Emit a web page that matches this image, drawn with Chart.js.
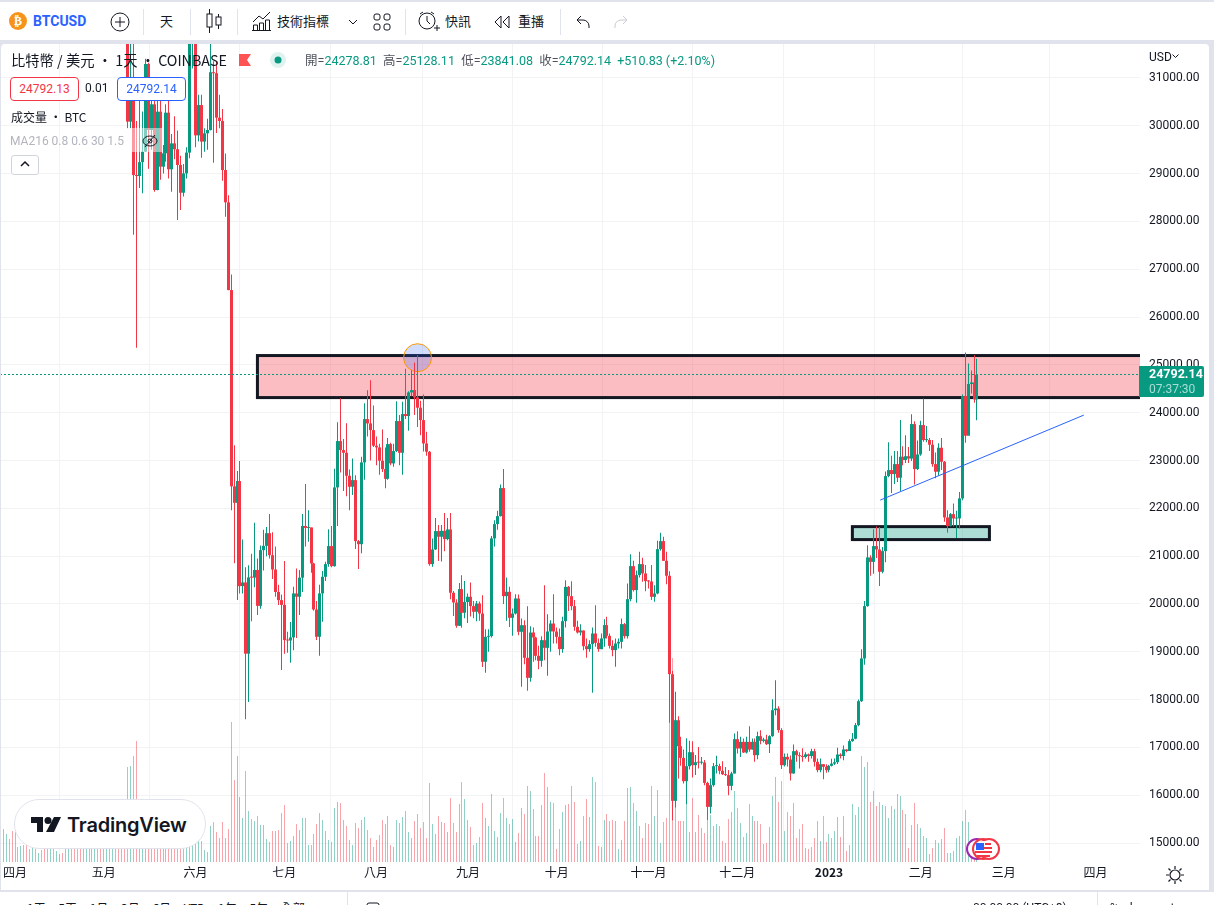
<!DOCTYPE html>
<html lang="zh-Hant">
<head>
<meta charset="utf-8">
<title>BTCUSD</title>
<script src="https://cdn.jsdelivr.net/npm/chart.js@4/dist/chart.umd.min.js"></script>
<style>
html,body{margin:0;padding:0;width:1214px;height:905px;overflow:hidden;background:#e0e3eb;font-family:"Noto Sans CJK TC","Roboto",sans-serif;color:#131722}
.abs{position:absolute;white-space:nowrap}
#top{position:absolute;left:0;top:2px;width:1214px;height:38px;background:#fff}
#panel{position:absolute;left:1px;top:44px;width:1208px;height:846px;background:#fff;border-radius:4px 4px 0 0;overflow:hidden}
#bottom{position:absolute;left:0;top:892px;width:1214px;height:13px;background:#fff;overflow:hidden}
#c{position:absolute;left:-1px;top:0}
.div{position:absolute;top:9px;width:1px;height:26px;background:#e0e3eb}
.tb{position:absolute;font-size:13px;line-height:20px;color:#131722}
svg{position:absolute;overflow:visible}
.val{color:#089981}.lab{color:#50535e}
</style>
</head>
<body>
<div id="top">
  <svg style="left:9px;top:10px" width="18" height="18" viewBox="0 0 18 18"><circle cx="9" cy="9" r="9" fill="#f7931a"/><text x="9" y="13" font-size="12" font-weight="700" text-anchor="middle" fill="#fff" font-family="Roboto">₿</text></svg>
  <div class="tb" style="left:33px;top:9px;color:#2962ff;font-weight:700;font-family:Roboto;font-size:14px">BTCUSD</div>
  <svg style="left:110px;top:10px" width="20" height="20" fill="none" stroke="#131722"><circle cx="10" cy="10" r="9"/><path d="M10 5v10M5 10h10"/></svg>
  <div class="div" style="left:143px;top:7px"></div>
  <div class="tb" style="left:160px;top:9px">天</div>
  <div class="div" style="left:190px;top:7px"></div>
  <svg style="left:206px;top:7px" width="16" height="24" fill="none" stroke="#131722"><path d="M3.5 0v24M12.5 5v15"/><rect x="1" y="5" width="5" height="13" fill="#fff"/><rect x="10" y="8" width="5" height="8" fill="#fff"/></svg>
  <div class="div" style="left:237px;top:7px"></div>
  <svg style="left:252px;top:9px" width="20" height="20" fill="none" stroke="#131722"><path d="M1 11l6-6 4 3 7-7"/><path d="M1.500 19v-5h4v5M7.500 19v-7h4v7M13.500 19v-10h4v10M0 19.500h19"/></svg>
  <div class="tb" style="left:277px;top:9px">技術指標</div>
  <svg style="left:348px;top:17px" width="10" height="6" fill="none" stroke="#131722"><path d="M1 1l4 4 4-4"/></svg>
  <svg style="left:373px;top:11px" width="18" height="18" fill="none" stroke="#131722"><rect x="1" y="1" width="6" height="6" rx="2"/><rect x="11" y="1" width="6" height="6" rx="2"/><rect x="1" y="11" width="6" height="6" rx="2"/><rect x="11" y="11" width="6" height="6" rx="2"/></svg>
  <div class="div" style="left:405px;top:7px"></div>
  <svg style="left:418px;top:9px" width="22" height="22" fill="none" stroke="#131722"><circle cx="9" cy="10" r="8"/><path d="M9 5v5l3 3M2 3l3-2M16 3l-3-2M16 17h6M19 14v6"/></svg>
  <div class="tb" style="left:445px;top:9px">快訊</div>
  <svg style="left:494px;top:13px" width="16" height="14" fill="none" stroke="#131722"><path d="M7 1L1 7l6 6zM15 1l-6 6 6 6z"/></svg>
  <div class="tb" style="left:518px;top:9px">重播</div>
  <div class="div" style="left:560px;top:7px"></div>
  <svg style="left:576px;top:13px" width="14" height="14" fill="none" stroke="#131722"><path d="M5 1L1 5l4 4M1 5h6a6 6 0 0 1 6 6v2"/></svg>
  <svg style="left:614px;top:13px" width="14" height="14" fill="none" stroke="#c9cbd2"><path d="M9 1l4 4-4 4M13 5H7a6 6 0 0 0-6 6v2"/></svg>
</div>

<div id="panel"><canvas id="c" width="1209" height="846"></canvas></div>

<div class="abs" style="left:132px;top:128px;width:30px;height:24px;background:rgba(255,255,255,.5)"></div>
<div class="abs" style="left:89px;top:128px;width:43px;height:24px;background:rgba(255,255,255,.5)"></div>
<div class="abs" style="left:11px;top:50px;font-size:14.3px;line-height:20px">比特幣 / 美元 · 1天 · COINBASE</div>
<svg style="left:239px;top:54px" width="12" height="12"><path d="M0 0h12l-4 6 4 6H0z" fill="#ff5252"/></svg>
<svg style="left:270px;top:52px" width="16" height="16"><circle cx="8" cy="8" r="8" fill="#e0f2ef"/><circle cx="8" cy="8" r="3.500" fill="#089981"/></svg>
<div class="abs" style="left:305px;top:52px;font-size:12.5px;line-height:18px;font-family:Roboto,'Noto Sans CJK TC'">
<span class="lab">開=</span><span class="val">24278.81</span>&nbsp; <span class="lab">高=</span><span class="val">25128.11</span>&nbsp; <span class="lab">低=</span><span class="val">23841.08</span>&nbsp; <span class="lab">收=</span><span class="val">24792.14</span>&nbsp; <span class="val">+510.83 (+2.10%)</span></div>
<div class="abs" style="left:10px;top:77px;width:67px;height:22px;border:1px solid #f23645;border-radius:4px;background:#fff;color:#f23645;font:12px/22px Roboto;text-align:center">24792.13</div>
<div class="abs" style="left:85px;top:80px;font:12px/16px Roboto;color:#131722">0.01</div>
<div class="abs" style="left:117px;top:77px;width:67px;height:22px;border:1px solid #2962ff;border-radius:4px;background:#fff;color:#2962ff;font:12px/22px Roboto;text-align:center">24792.14</div>
<div class="abs" style="left:11px;top:108px;font-size:12px;line-height:18px">成交量 · BTC</div>
<div class="abs" style="left:10px;top:132px;font:12px/18px Roboto;color:#b2b5be">MA216 0.8 0.6 30 1.5</div>
<svg style="left:142px;top:133px" width="16" height="16" fill="none" stroke="#131722"><ellipse cx="8" cy="8" rx="7" ry="5"/><circle cx="8" cy="8" r="2"/><path d="M13 2L3 14"/></svg>
<div class="abs" style="left:11px;top:155px;width:26px;height:18px;border:1px solid #d1d4dc;border-radius:3px;background:#fff"></div>
<svg style="left:20px;top:161px" width="10" height="6" fill="none" stroke="#131722" stroke-width="1.500"><path d="M1 5l4-4 4 4"/></svg>

<div class="abs" style="left:14px;top:799px;width:190px;height:48px;border:1px solid #e0e3eb;border-radius:25px;background:#fff"></div>
<svg style="left:31px;top:817px" width="30" height="16"><path d="M0 0h12v15H6V6H0z" fill="#131722"/><circle cx="17" cy="3.500" r="3.500" fill="#131722"/><path d="M23 0h7l-7 15h-8z" fill="#131722"/></svg>
<div class="abs" style="left:67px;top:812px;font:600 20px/26px Inter;color:#131722;letter-spacing:-.2px">TradingView</div>

<svg style="left:968px;top:838px" width="32" height="22">
  <circle cx="9" cy="11" r="10" fill="#fff" stroke="#9c27b0" stroke-width="2"/>
  <circle cx="15" cy="11" r="10" fill="#fff" stroke="#f23645" stroke-width="2"/>
  <circle cx="21" cy="11" r="10" fill="#fff" stroke="#f23645" stroke-width="2"/>
  <circle cx="15" cy="11" r="8" fill="#fff"/>
  <path d="M8 9h16v2H8zM7 13h17v2H7zM9 17h13v2H9zM17 5h6v2h-6z" fill="#f23645"/>
  <rect x="8" y="5" width="8" height="7" fill="#2962ff"/>
</svg>

<div class="abs" style="left:1149px;top:48px;font:12px/18px Roboto;color:#131722">USD</div>
<svg style="left:1172px;top:54px" width="7" height="5" fill="none" stroke="#131722"><path d="M.5 .5l3 3 3-3"/></svg>
<div class="abs" style="left:1139px;top:366px;width:65px;height:31px;background:#089981;border-radius:0 2px 2px 0"></div>
<div class="abs" style="left:1149px;top:366px;font:700 12.500px/16px Roboto;color:#fff">24792.14</div>
<div class="abs" style="left:1149px;top:381px;font:12px/16px Roboto;color:#a9ded4">07:37:30</div>
<svg style="left:1166px;top:866px" width="18" height="18" fill="none" stroke="#131722" stroke-width="1.200"><circle cx="9" cy="9" r="5"/><path d="M9 0v3M9 15v3M0 9h3M15 9h3M2.500 2.500l2 2M13.500 13.500l2 2M2.500 15.500l2-2M13.500 4.500l2-2"/></svg>

<div id="bottom">
  <div class="abs" style="left:27px;top:9px;font-size:12px;line-height:14px;word-spacing:10px">1天 5天 1月 3月 6月 YTD 1年 5年 全部</div>
  <div class="div" style="left:347px;top:0"></div>
  <svg style="left:366px;top:8px" width="14" height="14" fill="none" stroke="#131722"><rect x="1" y="3" width="12" height="10" rx="2"/></svg>
  <div class="abs" style="left:973px;top:9px;font:12px/14px Roboto">00:00:00 (UTC+8)</div>
  <div class="div" style="left:1097px;top:0"></div>
  <div class="abs" style="left:1110px;top:9px;font:12px/14px Roboto;word-spacing:8px">% log auto</div>
</div>

<script>
// Daily candles, 28 Mar 2022 – 20 Feb 2023; dayNumbers count from 1 Apr 2022 = 0
const firstDay = -4;
const opens = [
46850,47100,47450,47070,
45520,46280,45820,46410,46590,45500,43190,43450,42290,42780,42150,39530,40080,41150,39940,40550,40400,39720,40830,41500,41370,40480,39710,39450,39450,40430,38120,39240,39740,38600,
37640,38470,38530,37750,39690,36550,36010,35470,34060,30087,31000,28970,28950,29240,29460,31293,29913,30450,28657,30296,29145,29425,30275,29090,29633,29510,29180,28600,29005,29440,31720,
31790,29800,30434,29670,29843,29913,31120,31100,30170,30100,29075,28400,26565,22460,22115,22570,20373,20450,18960,20555,20550,20710,19960,21125,21215,21480,21020,20720,20250,20080,
19980,19245,19235,19300,20220,20150,20550,21630,21590,21600,20847,19885,19313,20220,20568,20833,21210,20791,22437,23406,23218,23162,22681,22451,22590,21314,21250,22960,23866,23776,23636,
23309,23274,22995,22820,22618,23343,22939,23197,23825,23162,23971,23930,24424,24473,24320,24104,23845,23357,23183,20833,21140,21524,21405,21530,21356,21558,20234,20031,19543,20310,19815,
20040,20150,19955,19836,20010,19800,18790,19313,19327,21370,21670,21837,22423,20163,20254,19710,19800,20114,19417,19556,18873,18455,19403,19299,18915,18810,19243,19082,19424,19591,
19424,19312,19055,19640,20358,20163,19954,19522,19403,19445,19117,19055,19159,19382,19187,19055,19278,19557,19333,19124,19034,19173,19208,19578,19326,20100,20791,20289,20603,20833,20638,
20477,20470,20149,20219,21146,21314,20902,20589,18531,15882,17569,17025,16781,16293,16607,16899,16628,16690,16680,16685,16258,15756,16210,16607,16610,16510,16440,16420,16195,16454,
17172,16977,17116,16893,17116,16955,17116,16837,17235,17137,17165,17067,17235,17778,17813,17361,16628,16802,16747,16454,16921,16837,16817,16800,16855,16820,16921,16698,16524,16649,16594,
16524,16614,16660,16690,16851,16820,16957,16925,17131,17180,17465,17967,18860,19955,20973,20880,21210,21140,20673,21105,22674,22800,22716,22925,22640,23078,23010,23090,23040,23762,22820,
23127,23741,23427,23430,23330,22925,22765,23267,22974,21809,21628,21879,21788,21790,22207,24348,23518,24599,24633,24278];
const closes = [
47100,47450,47070,45520,
46280,45820,46410,46590,45500,43190,43450,42290,42780,42150,39530,40080,41150,39940,40550,40400,39720,40830,41500,41370,40480,39710,39450,39450,40430,38120,39240,39740,38600,37640,
38470,38530,37750,39690,36550,36010,35470,34060,30087,31000,28970,28950,29240,29460,31293,29913,30450,28657,30296,29145,29425,30275,29090,29633,29510,29180,28600,29005,29440,31720,31790,
29800,30434,29670,29843,29913,31120,31100,30170,30100,29075,28400,26565,22460,22115,22570,20373,20450,18960,20555,20550,20710,19960,21125,21215,21480,21020,20720,20250,20080,19980,
19245,19235,19300,20220,20150,20550,21630,21590,21600,20847,19885,19313,20220,20568,20833,21210,20791,22437,23406,23218,23162,22681,22451,22590,21314,21250,22960,23866,23776,23636,23309,
23274,22995,22820,22618,23343,22939,23197,23825,23162,23971,23930,24424,24473,24320,24104,23845,23357,23183,20833,21140,21524,21405,21530,21356,21558,20234,20031,19543,20310,19815,20040,
20150,19955,19836,20010,19800,18790,19313,19327,21370,21670,21837,22423,20163,20254,19710,19800,20114,19417,19556,18873,18455,19403,19299,18915,18810,19243,19082,19424,19591,19424,
19312,19055,19640,20358,20163,19954,19522,19403,19445,19117,19055,19159,19382,19187,19055,19278,19557,19333,19124,19034,19173,19208,19578,19326,20100,20791,20289,20603,20833,20638,20477,
20470,20149,20219,21146,21314,20902,20589,18531,15882,17569,17025,16781,16293,16607,16899,16628,16690,16680,16685,16258,15756,16210,16607,16610,16510,16440,16420,16195,16454,17172,
16977,17116,16893,17116,16955,17116,16837,17235,17137,17165,17067,17235,17778,17813,17361,16628,16802,16747,16454,16921,16837,16817,16800,16855,16820,16921,16698,16524,16649,16594,16524,
16614,16660,16690,16851,16820,16957,16925,17131,17180,17465,17967,18860,19955,20973,20880,21210,21140,20673,21105,22674,22800,22716,22925,22640,23078,23010,23090,23040,23762,22820,23127,
23741,23427,23430,23330,22925,22765,23267,22974,21809,21628,21879,21788,21790,22207,24348,23518,24599,24633,24278,24792];
const highs = [
48200,48100,47700,47600,
46700,46900,47400,47000,47100,45500,43900,43950,43000,43000,42400,40700,41500,41500,40700,40700,40600,41100,41750,42900,42900,40800,39950,39900,40600,40800,39430,40350,39900,38800,
38700,38640,38650,40020,39800,36650,36130,35500,34250,32650,32150,30100,30900,30300,31400,31320,30700,30650,30540,30770,29600,30450,30650,29830,30200,29900,29375,29200,29550,32200,32350,
31950,30650,30650,29950,30150,31750,31350,31350,30650,30350,29420,28550,26890,23320,22780,22990,21350,20770,20810,21050,21700,20950,21220,21550,21610,21880,21500,21200,20400,20200,
20900,19420,19620,20360,20740,20710,21880,22510,21960,21600,20860,20060,20400,20690,20880,21560,21630,22830,23800,24300,23450,23780,22810,23040,22690,21340,23080,24200,24470,24680,24150,
23500,23350,23650,23270,23470,23370,23350,24240,23950,24230,24920,24450,24890,25050,25200,24250,24380,23600,23200,21370,21800,21650,21650,21900,21800,21900,20270,20100,20440,20600,20480,
20220,20450,20060,20060,20050,20180,19470,19470,21420,21750,21950,22500,22820,20553,20358,19905,20205,20200,19696,19660,19954,19535,19508,19312,19124,19327,20393,19786,19661,20205,
19508,19487,19731,20498,20373,20477,20080,19647,19578,19445,19277,19243,19508,19975,19277,19382,19682,19731,19382,19243,19277,19277,19696,19602,20428,21042,20902,20700,21090,20965,20812,
20498,20812,20393,21321,21488,21404,21090,20686,18600,18162,17653,17221,16955,17193,17137,17130,16840,17010,16800,16735,16280,16350,16675,16823,16660,16710,16590,16525,16490,17290,
17339,17220,17186,17220,17444,17186,17186,17325,17360,17200,17262,17255,18009,18405,17862,17400,16870,16870,16830,17060,16950,16900,16980,16900,16870,16970,16970,16770,16770,16649,16650,
16630,16760,16770,16990,16880,17040,16960,17170,17300,17510,18000,19050,20060,21230,21020,21560,21620,21610,21190,22770,23380,23100,23200,23200,23845,23300,23530,23280,23970,23820,23420,
23830,24299,23720,23470,23430,23170,23360,23470,22990,21960,21900,22100,21950,22340,24380,25260,25030,24880,25200,25128];
const lows = [
46650,46550,46550,45200,
44200,45150,45600,45100,45400,43100,42750,42150,42250,41900,39200,39250,39600,39550,39650,40000,39600,38550,40550,41100,39800,39200,39300,38950,38200,37750,37900,38880,38200,37600,
37390,37600,37500,37590,35600,35250,34800,33700,29950,29950,27720,25360,28700,28590,29450,29100,29500,28620,28650,28870,29000,29250,28900,28620,29300,28030,28240,28520,28900,29320,31200,
29550,29670,29330,29460,29500,29900,29230,29850,29950,28850,28100,26560,21960,20850,20080,20220,20220,17590,17950,19640,20350,19770,19900,20700,21000,20950,20520,20150,19980,18620,
18960,18980,18770,19030,19290,19770,20250,21200,21300,20652,19860,19244,18915,19627,20480,20780,20770,20780,21630,22750,22360,22250,21960,22280,21150,20730,21060,22600,23500,23000,23280,
22900,22700,22760,22420,22600,22900,22870,23180,22900,22700,23870,23620,24350,23950,23700,23530,23190,23100,20800,20780,21130,20900,20890,21100,21330,20100,19750,19500,19540,19500,19700,
19600,19740,19700,19640,19650,18680,18560,19000,19300,21200,21550,21830,20000,19647,19520,19333,19780,19347,18266,18740,18183,18371,18790,18824,18636,18685,18824,18497,19000,19173,
19173,18929,18978,19508,19850,19870,19438,19382,19340,19034,18873,19000,18141,19103,19000,19055,19103,19277,19068,18908,18685,19068,19068,19277,19277,20059,20260,20024,20554,20463,20268,
20324,20080,20045,20205,21111,20902,20414,17513,15477,15742,16350,16614,16245,15812,16540,16370,16420,16560,16640,16210,15480,15617,16175,16453,16440,16420,16400,16000,16105,16454,
16870,16800,16885,16870,16907,16955,16698,16753,17067,17100,17050,16885,17221,17674,17305,16550,16600,16600,16307,16450,16700,16560,16700,16770,16700,16770,16600,16480,16480,16333,16470,
16480,16600,16630,16650,16770,16730,16900,16930,17120,17170,17440,17950,18730,19940,20590,20630,20960,20373,20640,20870,22650,22320,22510,22550,22360,22900,22950,22950,22990,22500,22800,
23100,23390,23380,23200,22870,22630,22680,22800,21719,21489,21620,21620,21380,21580,22170,23370,23850,24400,24210,23841];
// Volume, thousands of BTC
const volumes = [
33,28,23,31,
30,15,16,17,17,13,25,13,9,12,13,15,15,14,11,8,9,14,16,20,22,15,18,24,20,18,16,14,20,18,25,16,18,22,28,30,38,42,
95,96,106,121,
58,45,30,50,35,48,38,32,28,20,30,34,28,24,30,20,30,28,40,38,24,
21,12,10,36,40,30,24,40,24,33,
140,82,106,65,44,91,51,43,41,46,37,37,23,20,31,31,32,49,57,19,21,26,38,32,44,44,17,17,28,38,49,42,31,22,20,54,60,59,42,36,22,17,39,34,42,45,32,24,15,22,27,42,38,46,17,15,42,39,45,51,30,24,41,48,34,40,24,79,38,28,46,40,39,30,64,39,30,58,80,63,42,35,17,19,25,59,44,36,68,31,25,
49,64,44,38,43,20,29,54,48,76,71,53,26,26,57,89,75,60,59,13,33,50,57,58,76,60,18,21,46,63,45,85,80,
16,15,42,48,41,42,41,13,22,41,74,75,59,51,36,24,39,38,76,46,72,19,40,44,144,204,156,
41,41,41,64,30,64,30,47,34,29,59,47,36,38,36,21,19,43,50,71,54,39,25,29,58,46,41,41,38,18,19,35,66,85,60,81,31,50,46,59,24,33,38,14,13,15,24,41,21,46,20,28,24,31,45,25,46,11,17,58,47,55,
106,95,100,60,71,
56,60,57,56,44,56,53,68,66,52,48,14,37,59,38,34,26,24,8,14,22,19,23,34,9,9,11,24,26,41,52,40,16,14,12];

const monthDays = [0,30,61,91,122,153,183,214,244,275,306,334,365];
const monthLabels = ["四月","五月","六月","七月","八月","九月","十月","十一月","十二月","2023","二月","三月","四月"];
const priceTicks = [15000,16000,17000,18000,19000,20000,21000,22000,23000,24000,25000,26000,27000,28000,29000,30000,31000];

const lastPrice = 24792.14;
const trendLine = [{x:292.3,y:22172},{x:361.1,y:23950}];
const zoneRed = {from:81.9,to:383,top:25195,bottom:24316};
const zoneGreen = {from:282.9,to:329.2,top:21617,bottom:21346};
const marker = {x:136,y:25150};

const UP="#089981", DOWN="#f23645", UPV="rgba(8,153,129,.45)", DOWNV="rgba(242,54,69,.45)";
const dayOf = i => firstDay + i;
const isUp = i => closes[i] >= opens[i];

// Snap the 1px wicks, volume bars and the dotted price line to whole device pixels
const crispPlugin = {
  id:"crisp",
  afterDatasetsUpdate(chart){
    chart.data.datasets.forEach((ds,n)=>{
      const meta = chart.getDatasetMeta(n);
      if (ds.type === "line") {
        if (ds.snap) meta.data.forEach(p=>{ p.y = Math.floor(p.y)+0.5; p.x = Math.round(p.x); });
        return;
      }
      meta.data.forEach(el=>{ el.x = Math.floor(el.x)+0.5; });
    });
  }
};

const zonesPlugin = {
  id:"zones",
  beforeDatasetsDraw(chart){
    const {ctx,chartArea:a,scales:{x,y}} = chart;
    ctx.save();
    ctx.beginPath(); ctx.rect(a.left,a.top,a.right-a.left,a.bottom-a.top); ctx.clip();
    const box=(z,fill)=>{
      const l=x.getPixelForValue(z.from), r=x.getPixelForValue(z.to);
      const t=y.getPixelForValue(z.top), b=y.getPixelForValue(z.bottom);
      ctx.fillStyle=fill; ctx.fillRect(l,t,r-l,b-t);
      ctx.strokeStyle="#131722"; ctx.lineWidth=3; ctx.strokeRect(l,t,r-l,b-t);
    };
    box(zoneRed,"rgba(242,54,69,.33)");
    box(zoneGreen,"rgba(8,153,129,.33)");
    ctx.beginPath();
    ctx.arc(x.getPixelForValue(marker.x),y.getPixelForValue(marker.y),14,0,Math.PI*2);
    ctx.fillStyle="rgba(41,98,255,.22)"; ctx.fill();
    ctx.strokeStyle="#ff9800"; ctx.lineWidth=1; ctx.stroke();
    ctx.restore();
  }
};

new Chart(document.getElementById("c"),{
  type:"bar",
  plugins:[crispPlugin,zonesPlugin],
  data:{datasets:[
    {label:"成交量",yAxisID:"vol",order:6,grouped:false,barThickness:1,inflateAmount:0,
     data:volumes.map((v,i)=>({x:dayOf(i),y:v})),
     backgroundColor:volumes.map((v,i)=>isUp(i)?UPV:DOWNV)},
    {label:"影線",yAxisID:"y",order:5,grouped:false,barThickness:1,inflateAmount:0,
     data:highs.map((h,i)=>({x:dayOf(i),y:[lows[i],h]})),
     backgroundColor:highs.map((h,i)=>isUp(i)?UP:DOWN)},
    {label:"K線",yAxisID:"y",order:4,grouped:false,barThickness:3,inflateAmount:0,minBarLength:1,
     data:opens.map((o,i)=>({x:dayOf(i),y:[Math.min(o,closes[i]),Math.max(o,closes[i])]})),
     backgroundColor:opens.map((o,i)=>isUp(i)?UP:DOWN)},
    {type:"line",label:"現價",yAxisID:"y",order:3,snap:true,
     data:[{x:-5,y:lastPrice},{x:381,y:lastPrice}],
     borderColor:UP,borderWidth:1,borderDash:[2,2],pointRadius:0},
    {type:"line",label:"趨勢線",yAxisID:"y",order:2,
     data:trendLine,borderColor:"#2962ff",borderWidth:1,pointRadius:0}
  ]},
  options:{
    responsive:false,animation:false,devicePixelRatio:1,
    layout:{padding:0},
    plugins:{legend:{display:false},tooltip:{enabled:false}},
    scales:{
      x:{type:"linear",min:-5.07,max:380.07,offset:false,
        afterBuildTicks:s=>{s.ticks=monthDays.map(v=>({value:v}))},
        afterFit:s=>{s.height=28;s.paddingLeft=0;s.paddingRight=0},
        border:{display:false},
        grid:{color:"#f2f3f5",drawTicks:false},
        ticks:{autoSkip:false,maxRotation:0,padding:3,color:"#131722",
          font:c=>({family:"'Noto Sans CJK TC',Roboto",size:12,weight:monthLabels[c.index]==="2023"?"700":"400"}),
          callback:(v,i)=>monthLabels[i]}},
      y:{position:"right",min:14603,max:31711,
        afterBuildTicks:s=>{s.ticks=priceTicks.map(v=>({value:v}))},
        afterFit:s=>{s.width=69;s.paddingTop=0;s.paddingBottom=0},
        border:{display:false},
        grid:{color:"#f2f3f5",drawTicks:false},
        ticks:{autoSkip:false,padding:9,color:"#131722",font:{family:"Roboto",size:12},
          callback:v=>Number(v).toFixed(2)}},
      vol:{display:false,min:0,max:818,afterFit:s=>{s.paddingTop=0;s.paddingBottom=0}}
    }
  }
});
</script>
</body>
</html>
